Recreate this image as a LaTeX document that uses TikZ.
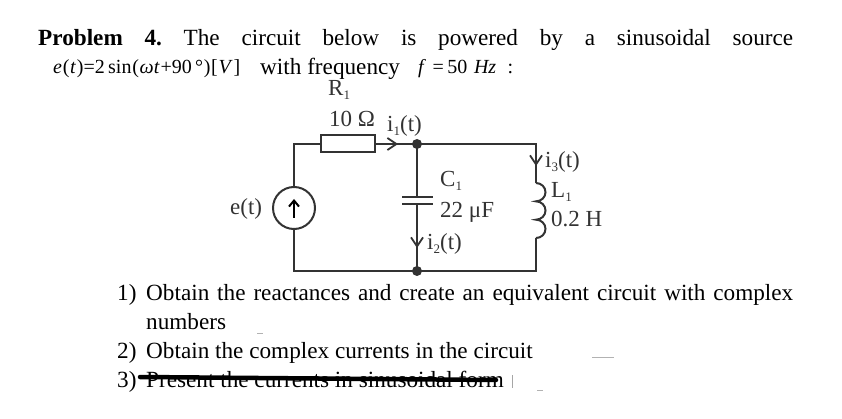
\documentclass[tikz,border=0pt]{standalone}
\usepackage{fontspec}
\setmainfont{Liberation Serif}
\usetikzlibrary{arrows.meta,calc}
\definecolor{cw}{HTML}{333333}
\tikzset{
  wire/.style={draw=cw,line width=2pt},
  txt/.style={inner sep=0pt,anchor=base west,font=\fontsize{23.2}{25}\selectfont,text=black},
  ctxt/.style={inner sep=0pt,anchor=base west,font=\fontsize{23}{25}\selectfont,text=cw},
  mth/.style={inner sep=0pt,anchor=base west,font=\fontsize{20}{22}\selectfont,text=black},
  dot/.style={circle,fill=cw,inner sep=0pt,minimum size=10pt},
  open/.style={-{Straight Barb[length=9pt,width=12pt,line width=1.8pt]},draw=cw,line width=2pt},
  speck/.style={draw=gray!60,line width=.7pt}
}
\newcommand{\subs}[1]{\raisebox{-4pt}{\fontsize{13}{14}\selectfont #1}}
\begin{document}
\begin{tikzpicture}[x=1pt,y=-1pt]
\useasboundingbox (0,0) rectangle (842,419);
% heading
\node[txt] (h1) at (38,46) {\hbox to 755pt{\textbf{Problem}\hfill\textbf{4.}\hfill The\hfill circuit\hfill below\hfill is\hfill powered\hfill by\hfill a\hfill sinusoidal\hfill source}};
\node[mth] (m1) at (53,74) {\hbox to 187pt{\textit{e}\hfill(\hfill\textit{t}\hfill)=2\,sin\hfill(\hfill\textit{ωt}\hfill+90\,°\hfill)\hfill[\hfill\textit{V}\hfill]}};
\node[txt] (h2) at (260,75) {with frequency};
\node[mth] (m2) at (418,74) {\hbox to 95pt{\textit{f}\,\,=\,50\,\,\textit{Hz}\hfill:}};
% coordinates
\coordinate (tl) at (294,144);
\coordinate (bl) at (294,271);
\node[dot] (n1) at (417,144) {};
\node[dot] (n2) at (417,271) {};
\coordinate (tr) at (536,144);
\coordinate (br) at (536,271);
\node[draw=cw,line width=2pt,minimum width=54pt,minimum height=17pt,inner sep=0pt] (r1) at (348,144) {};
\node[draw=cw,line width=2pt,circle,minimum size=42pt,inner sep=0pt] (src) at (294,208) {};
\coordinate (srct) at (294,218);
\coordinate (srch) at (294,199);
\coordinate (cp1) at (417,197);
\coordinate (cp2) at (417,204);
\coordinate (ltop) at (536,183);
\coordinate (lbot) at (536,238);
\coordinate (i1t) at (398,144);
\coordinate (i2t) at (417,248);
\coordinate (i3t) at (536,166);
% wires
\path[wire] (src.north) -- (tl) -- (r1.west);
\path[wire] (src.south) -- (bl) -- (n2.center) -- (br) -- (lbot);
\path[wire] (r1.east) -- (n1.center) -- (tr) -- (ltop);
\path[wire] (n1.center) -- (cp1);
\path[wire] (cp2) -- (n2.center);
\path[wire] ([xshift=-15pt]cp1) -- ([xshift=16pt]cp1);
\path[wire] ([xshift=-15pt]cp2) -- ([xshift=16pt]cp2);
% inductor
\draw[draw=cw,line width=2pt] (ltop)
  arc[start angle=90,end angle=-90,x radius=9.5pt,y radius=9.17pt]
  arc[start angle=90,end angle=-90,x radius=9.5pt,y radius=9.17pt]
  arc[start angle=90,end angle=-90,x radius=9.5pt,y radius=9.17pt];
% arrows
\draw[open] (r1.east) -- (i1t);
\draw[open] (cp2) -- (i2t);
\draw[open] (tr) -- (i3t);
\draw[-{Straight Barb[length=6pt,width=10pt,line width=2pt]},draw=black,line width=2.2pt] (srct) -- (srch);
% circuit labels
\node[ctxt] (lr1) at (328,96) {R\subs{1}};
\node[ctxt] (lr2) at (329,127) {10 Ω};
\node[ctxt] (li1) at (387,132) {i\subs{1}(t)};
\node[ctxt] (le) at (230,215) {e(t)};
\node[ctxt] (lc1) at (440,187) {C\subs{1}};
\node[ctxt] (lc2) at (440,218) {22 μF};
\node[ctxt] (li2) at (427,250) {i\subs{2}(t)};
\node[ctxt] (li3) at (545,168) {i\subs{3}(t)};
\node[ctxt] (ll1) at (551,198) {L\subs{1}};
\node[ctxt] (ll2) at (551,227) {0.2 H};
% items
\node[txt] (a1) at (117,300) {1)};
\node[txt] (a1t) at (146,300) {\hbox to 647pt{Obtain\hfill the\hfill reactances\hfill and\hfill create\hfill an\hfill equivalent\hfill circuit\hfill with\hfill complex}};
\node[txt] (a1u) at (146,329) {numbers};
\node[txt] (a2) at (117,358) {2)};
\node[txt] (a2t) at (146,358) {Obtain the complex currents in the circuit};
\node[txt] (a3) at (117,387) {3)};
\node[txt] (a3t) at (146,387) {Present the currents in sinusoidal form};
\coordinate (st1) at (140,377);
\coordinate (st2) at (496,380);
\draw[black,line width=4.5pt,line cap=round] (st1) -- (st2);
% residual specks
\coordinate (s1) at (257,333); \coordinate (s2) at (263,333);
\draw[speck] (s1) -- (s2);
\coordinate (s3) at (592,357); \coordinate (s4) at (614,357);
\draw[speck] (s3) -- (s4);
\coordinate (s5) at (512,375); \coordinate (s6) at (512,388);
\draw[gray!70,line width=.8pt] (s5) -- (s6);
\coordinate (s7) at (537,390); \coordinate (s8) at (543,390);
\draw[speck] (s7) -- (s8);
\end{tikzpicture}
\end{document}
